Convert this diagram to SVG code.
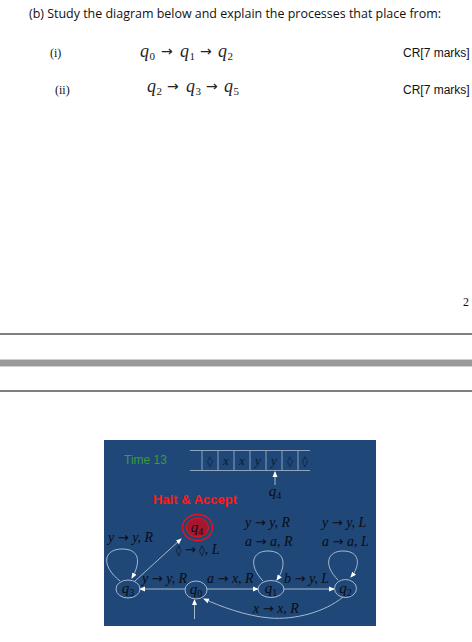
<svg xmlns="http://www.w3.org/2000/svg" width="472" height="642" viewBox="0 0 472 642">
<defs>
<style>
.hdr{font-family:"Open Sans","Noto Sans","Liberation Sans",sans-serif;font-size:13px;fill:#111}
.rom{font-family:"Liberation Serif","DejaVu Serif",serif;font-size:12px;fill:#111}
.cr{font-family:"Liberation Sans",Arial,sans-serif;font-size:12px;fill:#111}
.qm{font-family:"Liberation Serif","DejaVu Serif",serif;font-style:italic;font-size:18px;fill:#222}
.qs{font-family:"Liberation Serif","DejaVu Serif",serif;font-size:11px;fill:#222}
.ar{font-family:"DejaVu Sans",sans-serif;font-size:14px;fill:#222}
.lbl{font-family:"Liberation Serif","DejaVu Serif",serif;font-style:italic;font-size:14px;fill:#0c0c16}
.arw{font-family:"DejaVu Sans",sans-serif;font-style:normal;font-size:13px}
.dia{font-family:"DejaVu Sans",sans-serif;font-style:normal;font-size:11px}
.st{font-family:"Liberation Serif","DejaVu Serif",serif;font-style:italic;font-size:15px;fill:#0c0c16}
.stn{font-size:10px;font-style:normal}
.node{fill:none;stroke:#a9bad0;stroke-width:1}
.edge{fill:none;stroke:#a9bad0;stroke-width:1;marker-end:url(#ah)}
.tape{stroke:#8fa3bd;stroke-width:1;fill:none}
.sym{font-family:"Liberation Serif","DejaVu Serif",serif;font-style:italic;font-size:13px;fill:#0c1a33}
</style>
<marker id="ah" viewBox="0 0 6 6" refX="5" refY="3" markerWidth="6" markerHeight="6" orient="auto" markerUnits="userSpaceOnUse">
<path d="M0,0.5 L6,3 L0,5.5 z" fill="#ffffff"/>
</marker>
</defs>
<rect width="472" height="642" fill="#ffffff"/>

<!-- Question text -->
<text class="hdr" x="29" y="18" textLength="412" lengthAdjust="spacingAndGlyphs">(b) Study the diagram below and explain the processes that place from:</text>
<text class="rom" x="50" y="57">(i)</text>
<text class="rom" x="55" y="94">(ii)</text>
<g>
<text class="qm" x="140" y="57">q</text><text class="qs" x="149.5" y="60">0</text>
<text class="ar" x="161" y="56">→</text>
<text class="qm" x="180" y="57">q</text><text class="qs" x="189.5" y="60">1</text>
<text class="ar" x="200" y="56">→</text>
<text class="qm" x="218" y="57">q</text><text class="qs" x="227.5" y="60">2</text>
</g>
<g>
<text class="qm" x="147" y="92">q</text><text class="qs" x="156.5" y="95">2</text>
<text class="ar" x="167" y="91">→</text>
<text class="qm" x="186" y="92">q</text><text class="qs" x="195.5" y="95">3</text>
<text class="ar" x="206" y="91">→</text>
<text class="qm" x="224" y="92">q</text><text class="qs" x="233.5" y="95">5</text>
</g>
<text class="cr" x="403" y="57">CR[7 marks]</text>
<text class="cr" x="403" y="94">CR[7 marks]</text>
<text class="rom" x="463" y="306">2</text>

<!-- Page separator -->
<line x1="0" y1="334" x2="472" y2="334" stroke="#000" stroke-width="1.2"/>
<rect x="0" y="359" width="472" height="8" fill="#9a9a9a"/>
<line x1="0" y1="359.5" x2="472" y2="359.5" stroke="#cfcfcf" stroke-width="1"/>
<line x1="0" y1="366.5" x2="472" y2="366.5" stroke="#cfcfcf" stroke-width="1"/>
<line x1="0" y1="391" x2="472" y2="391" stroke="#000" stroke-width="1.2"/>

<!-- Diagram panel -->
<rect x="104" y="440" width="272" height="186" fill="#1f4777"/>
<text x="124" y="464" font-family="'Liberation Sans',Arial,sans-serif" font-size="12" fill="#3c9a3c">Time 13</text>

<!-- Tape -->
<g id="tape">
<line class="tape" x1="190" y1="450.5" x2="310" y2="450.5"/>
<line class="tape" x1="190" y1="470.5" x2="310" y2="470.5"/>
<line class="tape" x1="202" y1="450" x2="202" y2="471"/>
<line class="tape" x1="218" y1="450" x2="218" y2="471"/>
<line class="tape" x1="234" y1="450" x2="234" y2="471"/>
<line class="tape" x1="250" y1="450" x2="250" y2="471"/>
<line class="tape" x1="266" y1="450" x2="266" y2="471"/>
<line class="tape" x1="282" y1="450" x2="282" y2="471"/>
<line class="tape" x1="298" y1="450" x2="298" y2="471"/>
<g class="sym" text-anchor="middle">
<text x="210" y="465" class="dia" fill="#0c1a33">◊</text>
<text x="226" y="465">x</text>
<text x="242" y="465">x</text>
<text x="258" y="465">y</text>
<text x="274" y="465">y</text>
<text x="290" y="465" class="dia" fill="#0c1a33">◊</text>
<text x="305" y="465" class="dia" fill="#0c1a33">◊</text>
</g>
<line class="edge" x1="275" y1="485" x2="275" y2="472"/>
<text class="st" x="275" y="496" text-anchor="middle">q<tspan class="stn" dy="3">4</tspan></text>
</g>

<text x="153" y="504" font-family="'Liberation Sans',Arial,sans-serif" font-weight="bold" font-size="13" fill="#ff1a1a" textLength="84" lengthAdjust="spacingAndGlyphs">Halt &amp; Accept</text>

<!-- Connectors -->
<g id="connectors">
<path class="edge" d="M120 581 C100 565,104 549,122 549 C140 549,141 562,132 578"/>
<path class="edge" d="M263 581 C248 565,252 551,268 551 C285 551,287 565,277 580"/>
<path class="edge" d="M338 580 C323 565,327 551,343 551 C360 551,361 565,351 577"/>
<line class="edge" x1="135" y1="581" x2="181" y2="539"/>
<line class="edge" x1="185" y1="589" x2="140" y2="589"/>
<line class="edge" x1="207" y1="589" x2="258" y2="589"/>
<line class="edge" x1="284" y1="589" x2="334" y2="589"/>
<line class="edge" x1="194.5" y1="619" x2="194.5" y2="600"/>
<path class="edge" d="M343 597 C325 612,295 620,270 618 C245 616,220 606,204 599"/>
</g>

<!-- Transition labels -->
<g id="labels">
<text class="lbl" x="108" y="542">y <tspan class="arw">→</tspan> y, R</text>
<text class="lbl" x="176" y="554"><tspan class="dia">◊</tspan> <tspan class="arw">→</tspan> <tspan class="dia">◊</tspan>, L</text>
<text class="lbl" x="245" y="527">y <tspan class="arw">→</tspan> y, R</text>
<text class="lbl" x="245" y="546">a <tspan class="arw">→</tspan> a, R</text>
<text class="lbl" x="322" y="527">y <tspan class="arw">→</tspan> y, L</text>
<text class="lbl" x="322" y="546">a <tspan class="arw">→</tspan> a, L</text>
<text class="lbl" x="142" y="583">y <tspan class="arw">→</tspan> y, R</text>
<text class="lbl" x="207" y="583">a <tspan class="arw">→</tspan> x, R</text>
<text class="lbl" x="284" y="583">b <tspan class="arw">→</tspan> y, L</text>
<text class="lbl" x="253" y="613">x <tspan class="arw">→</tspan> x, R</text>
</g>

<!-- Nodes -->
<g id="q4">
<ellipse cx="197.5" cy="527.5" rx="15" ry="13" fill="none" stroke="#e8141e" stroke-width="1.3"/>
<ellipse cx="197.5" cy="527.5" rx="11" ry="9.5" fill="#a3182e" stroke="#e8141e" stroke-width="1"/>
<text class="st" x="197" y="532" text-anchor="middle">q<tspan class="stn" dy="3">4</tspan></text>
</g>
<g id="q3">
<ellipse class="node" cx="128" cy="589" rx="12" ry="9"/>
<text class="st" x="128" y="593" text-anchor="middle">q<tspan class="stn" dy="3">3</tspan></text>
</g>
<g id="q0">
<ellipse class="node" cx="196" cy="590" rx="11" ry="9"/>
<text class="st" x="196" y="594" text-anchor="middle">q<tspan class="stn" dy="3">0</tspan></text>
</g>
<g id="q1">
<ellipse class="node" cx="271" cy="589" rx="13" ry="8.5"/>
<text class="st" x="271" y="593" text-anchor="middle">q<tspan class="stn" dy="3">1</tspan></text>
</g>
<g id="q2">
<ellipse class="node" cx="345.5" cy="588.5" rx="11" ry="9"/>
<text class="st" x="345.5" y="592.5" text-anchor="middle">q<tspan class="stn" dy="3">2</tspan></text>
</g>
</svg>
